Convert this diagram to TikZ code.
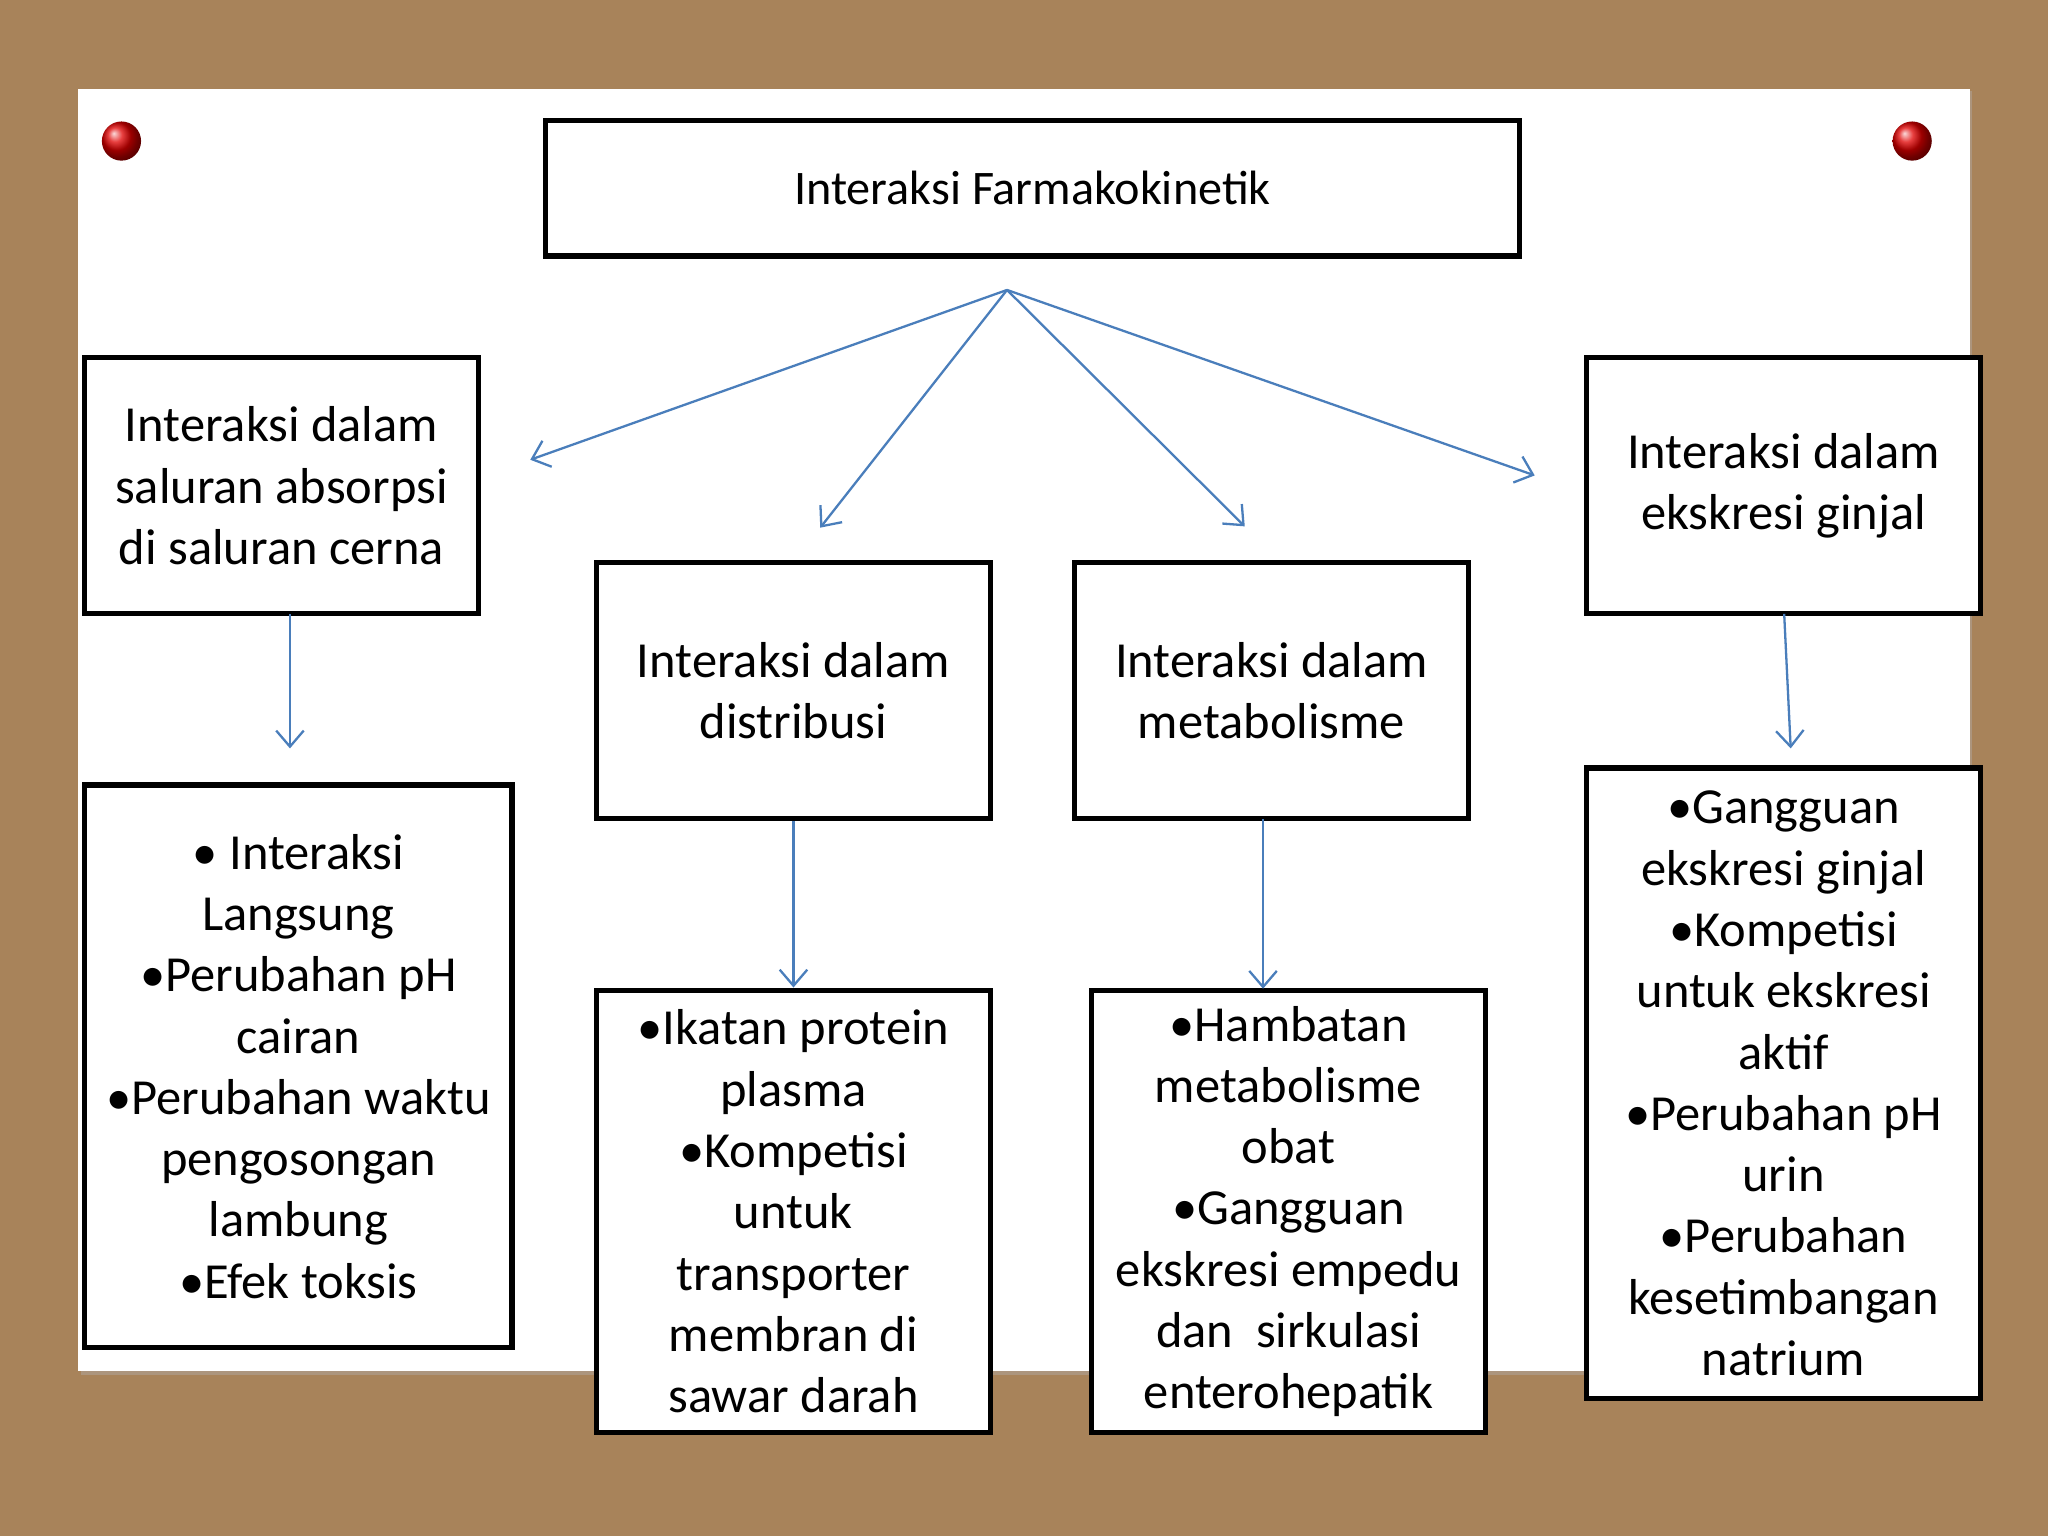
\documentclass[tikz,border=0pt]{standalone}
\usepackage{fontspec}
\setmainfont{Carlito}
\usetikzlibrary{arrows.meta}
\definecolor{cork}{HTML}{A8835A}
\definecolor{pinred}{HTML}{E00000}
\definecolor{arr}{HTML}{4A7EBB}
\begin{document}
\begin{tikzpicture}[x=0.02cm,y=-0.02cm,
  box/.style={draw=black,line width=2.2pt,fill=white,align=center,inner sep=0pt,font=\fontsize{22}{26.7}\selectfont},
  con/.style={draw=arr,line width=1pt,-{Straight Barb[length=7pt,width=12pt]}}]
\fill[cork] (0,0) rectangle (1568,1176);
\useasboundingbox (0,0) rectangle (1568,1176);
\fill[black!30,opacity=0.4] (62,70) rectangle (1510,1053);
\fill[white] (60,68) rectangle (1508,1050);
\shade[ball color=pinred] (93,108) circle (15);
\shade[ball color=pinred] (1464,108) circle (15);
\node[box,minimum width=745*0.02cm,minimum height=104*0.02cm,font=\fontsize{21}{25}\selectfont] (top) at (790.5,144) {Interaksi Farmakokinetik};
\node[box,minimum width=301*0.02cm,minimum height=196*0.02cm] (b1) at (215.5,372) {Interaksi dalam\\saluran absorpsi\\di saluran cerna};
\node[box,minimum width=301*0.02cm,minimum height=196*0.02cm] (b2) at (607.5,529) {Interaksi dalam\\distribusi};
\node[box,minimum width=301*0.02cm,minimum height=196*0.02cm] (b3) at (973.5,529) {Interaksi dalam\\metabolisme};
\node[box,minimum width=301*0.02cm,minimum height=196*0.02cm] (b4) at (1365.5,372) {Interaksi dalam\\ekskresi ginjal};
\node[box,minimum width=327*0.02cm,minimum height=431*0.02cm] (d1) at (228.5,816.5) {• Interaksi\\Langsung\\•Perubahan pH\\cairan\\•Perubahan waktu\\pengosongan\\lambung\\•Efek toksis};
\node[box,minimum width=301*0.02cm,minimum height=339*0.02cm] (d2) at (607.5,927.5) {•Ikatan protein\\plasma\\•Kompetisi\\untuk\\transporter\\membran di\\sawar darah};
\node[box,minimum width=301*0.02cm,minimum height=339*0.02cm] (d3) at (986.5,927.5) {•Hambatan\\metabolisme\\obat\\•Gangguan\\ekskresi empedu\\dan~~sirkulasi\\enterohepatik};
\node[box,minimum width=301*0.02cm,minimum height=483*0.02cm] (d4) at (1365.5,829.5) {•Gangguan\\ekskresi ginjal\\•Kompetisi\\untuk ekskresi\\aktif\\•Perubahan pH\\urin\\•Perubahan\\kesetimbangan\\natrium};
\coordinate (hub) at (771,222);
\coordinate (e1) at (406,352);
\coordinate (e2) at (628,404);
\coordinate (e3) at (953,403);
\coordinate (e4) at (1175,364);
\draw[con] (hub) -- (e1);
\draw[con] (hub) -- (e2);
\draw[con] (hub) -- (e3);
\draw[con] (hub) -- (e4);
\draw[con] (222,470) -- (222,573);
\draw[con] (b2.south) -- (d2.north);
\draw[con] (967,627) -- (967,757);
\draw[con] (1366,470) -- (1371,573);
\end{tikzpicture}
\end{document}
